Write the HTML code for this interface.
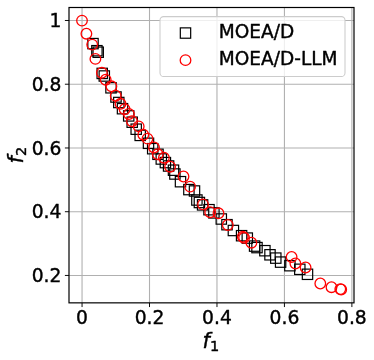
<!DOCTYPE html>
<html lang="en"><head><meta charset="utf-8"><title>MOEA/D vs MOEA/D-LLM</title>
<style>html,body{margin:0;padding:0;background:#fff;}svg{display:block;}text{font-family:"DejaVu Sans","Liberation Sans",sans-serif;fill:#000;stroke:#000;stroke-width:0.4px;stroke-linejoin:round;}.it{font-style:italic;}</style></head><body>
<svg width="374" height="360" viewBox="0 0 374 360">
<rect x="0" y="0" width="374" height="360" fill="#ffffff"/>
<g stroke="#b0b0b0" stroke-width="1.1" fill="none">
<line x1="82.05" y1="7.5" x2="82.05" y2="302.85"/>
<line x1="149.51" y1="7.5" x2="149.51" y2="302.85"/>
<line x1="216.97" y1="7.5" x2="216.97" y2="302.85"/>
<line x1="284.43" y1="7.5" x2="284.43" y2="302.85"/>
<line x1="351.89" y1="7.5" x2="351.89" y2="302.85"/>
<line x1="69.0" y1="275.45" x2="354.0" y2="275.45"/>
<line x1="69.0" y1="211.71" x2="354.0" y2="211.71"/>
<line x1="69.0" y1="147.97" x2="354.0" y2="147.97"/>
<line x1="69.0" y1="84.23" x2="354.0" y2="84.23"/>
<line x1="69.0" y1="20.49" x2="354.0" y2="20.49"/>
</g>
<g fill="none" stroke="#000000" stroke-width="1.2" stroke-linejoin="miter">
<rect x="87.83" y="38.43" width="10.35" height="10.35"/>
<rect x="91.73" y="45.53" width="10.35" height="10.35"/>
<rect x="93.03" y="47.03" width="10.35" height="10.35"/>
<rect x="97.03" y="68.23" width="10.35" height="10.35"/>
<rect x="99.12" y="70.83" width="10.35" height="10.35"/>
<rect x="105.83" y="82.62" width="10.35" height="10.35"/>
<rect x="110.83" y="91.83" width="10.35" height="10.35"/>
<rect x="113.62" y="97.33" width="10.35" height="10.35"/>
<rect x="117.33" y="103.53" width="10.35" height="10.35"/>
<rect x="123.52" y="110.73" width="10.35" height="10.35"/>
<rect x="127.02" y="117.03" width="10.35" height="10.35"/>
<rect x="131.02" y="124.02" width="10.35" height="10.35"/>
<rect x="135.02" y="130.22" width="10.35" height="10.35"/>
<rect x="143.32" y="138.12" width="10.35" height="10.35"/>
<rect x="147.52" y="143.52" width="10.35" height="10.35"/>
<rect x="152.82" y="149.12" width="10.35" height="10.35"/>
<rect x="156.12" y="153.82" width="10.35" height="10.35"/>
<rect x="160.22" y="157.42" width="10.35" height="10.35"/>
<rect x="163.42" y="160.82" width="10.35" height="10.35"/>
<rect x="168.32" y="165.02" width="10.35" height="10.35"/>
<rect x="169.72" y="168.82" width="10.35" height="10.35"/>
<rect x="175.32" y="176.52" width="10.35" height="10.35"/>
<rect x="183.72" y="184.42" width="10.35" height="10.35"/>
<rect x="189.32" y="185.82" width="10.35" height="10.35"/>
<rect x="191.72" y="194.82" width="10.35" height="10.35"/>
<rect x="194.22" y="197.32" width="10.35" height="10.35"/>
<rect x="197.42" y="199.72" width="10.35" height="10.35"/>
<rect x="203.82" y="204.52" width="10.35" height="10.35"/>
<rect x="208.72" y="207.72" width="10.35" height="10.35"/>
<rect x="216.12" y="213.82" width="10.35" height="10.35"/>
<rect x="221.82" y="219.52" width="10.35" height="10.35"/>
<rect x="228.22" y="225.32" width="10.35" height="10.35"/>
<rect x="236.42" y="230.52" width="10.35" height="10.35"/>
<rect x="242.12" y="232.92" width="10.35" height="10.35"/>
<rect x="249.42" y="240.92" width="10.35" height="10.35"/>
<rect x="251.82" y="242.42" width="10.35" height="10.35"/>
<rect x="259.72" y="245.52" width="10.35" height="10.35"/>
<rect x="264.82" y="249.62" width="10.35" height="10.35"/>
<rect x="270.62" y="252.93" width="10.35" height="10.35"/>
<rect x="275.43" y="256.93" width="10.35" height="10.35"/>
<rect x="284.72" y="260.52" width="10.35" height="10.35"/>
<rect x="294.62" y="264.12" width="10.35" height="10.35"/>
<rect x="302.32" y="269.12" width="10.35" height="10.35"/>
</g>
<g fill="none" stroke="#ff0000" stroke-width="1.3">
<circle cx="82.00" cy="20.60" r="5.30"/>
<circle cx="86.40" cy="33.70" r="5.30"/>
<circle cx="92.20" cy="44.60" r="5.30"/>
<circle cx="95.40" cy="58.90" r="5.30"/>
<circle cx="101.90" cy="72.80" r="5.30"/>
<circle cx="105.70" cy="79.70" r="5.30"/>
<circle cx="111.40" cy="86.30" r="5.30"/>
<circle cx="115.70" cy="95.70" r="5.30"/>
<circle cx="120.50" cy="103.80" r="5.30"/>
<circle cx="124.60" cy="109.20" r="5.30"/>
<circle cx="128.90" cy="114.00" r="5.30"/>
<circle cx="132.00" cy="121.20" r="5.30"/>
<circle cx="138.70" cy="126.40" r="5.30"/>
<circle cx="143.30" cy="134.70" r="5.30"/>
<circle cx="147.50" cy="138.60" r="5.30"/>
<circle cx="154.00" cy="147.50" r="5.30"/>
<circle cx="157.80" cy="154.20" r="5.30"/>
<circle cx="163.90" cy="157.70" r="5.30"/>
<circle cx="170.10" cy="166.70" r="5.30"/>
<circle cx="183.50" cy="176.50" r="5.30"/>
<circle cx="190.10" cy="186.60" r="5.30"/>
<circle cx="203.00" cy="204.40" r="5.30"/>
<circle cx="210.20" cy="212.20" r="5.30"/>
<circle cx="218.50" cy="213.30" r="5.30"/>
<circle cx="227.80" cy="225.00" r="5.30"/>
<circle cx="242.80" cy="236.80" r="5.30"/>
<circle cx="244.10" cy="237.80" r="5.30"/>
<circle cx="251.40" cy="242.70" r="5.30"/>
<circle cx="291.60" cy="257.00" r="5.30"/>
<circle cx="295.40" cy="263.50" r="5.30"/>
<circle cx="305.60" cy="267.50" r="5.30"/>
<circle cx="320.30" cy="283.50" r="5.30"/>
<circle cx="331.50" cy="287.20" r="5.30"/>
<circle cx="340.30" cy="289.10" r="5.30"/>
<circle cx="341.20" cy="289.50" r="5.30"/>
</g>
<g stroke="#000000" stroke-width="0.95" fill="none">
<line x1="82.05" y1="302.85" x2="82.05" y2="307.05"/>
<line x1="149.51" y1="302.85" x2="149.51" y2="307.05"/>
<line x1="216.97" y1="302.85" x2="216.97" y2="307.05"/>
<line x1="284.43" y1="302.85" x2="284.43" y2="307.05"/>
<line x1="351.89" y1="302.85" x2="351.89" y2="307.05"/>
<line x1="64.9" y1="275.45" x2="69.0" y2="275.45"/>
<line x1="64.9" y1="211.71" x2="69.0" y2="211.71"/>
<line x1="64.9" y1="147.97" x2="69.0" y2="147.97"/>
<line x1="64.9" y1="84.23" x2="69.0" y2="84.23"/>
<line x1="64.9" y1="20.49" x2="69.0" y2="20.49"/>
<rect x="69.0" y="7.5" width="285.0" height="295.35" stroke-linejoin="miter" stroke-width="1.2"/>
</g>
<g font-size="18.7">
<text x="82.05" y="323.6" text-anchor="middle">0</text>
<text x="149.51" y="323.6" text-anchor="middle">0.2</text>
<text x="216.97" y="323.6" text-anchor="middle">0.4</text>
<text x="284.43" y="323.6" text-anchor="middle">0.6</text>
<text x="351.89" y="323.6" text-anchor="middle">0.8</text>
<text x="61.4" y="282.20" text-anchor="end">0.2</text>
<text x="61.4" y="218.46" text-anchor="end">0.4</text>
<text x="61.4" y="154.72" text-anchor="end">0.6</text>
<text x="61.4" y="90.98" text-anchor="end">0.8</text>
<text x="61.4" y="27.24" text-anchor="end">1</text>
<text x="202.4" y="347.5" class="it" font-size="20.8">f<tspan font-size="14.56" dy="3.1" dx="0.3" font-style="normal">1</tspan></text>
<text transform="translate(23.0,163.6) rotate(-90)" class="it" font-size="20.8">f<tspan font-size="14.56" dy="3.1" dx="0.3" font-style="normal">2</tspan></text>
</g>
<rect x="160" y="16.6" width="185" height="59.9" rx="3.6" ry="3.6" fill="#ffffff" fill-opacity="0.8" stroke="#cccccc" stroke-width="1.05"/>
<rect x="180.32" y="27.87" width="10.35" height="10.35" fill="none" stroke="#000" stroke-width="1.2"/>
<circle cx="185.5" cy="60.15" r="5.3" fill="none" stroke="#ff0000" stroke-width="1.3"/>
<text x="218.8" y="37.6" font-size="18.55">MOEA/D</text>
<text x="218.8" y="65.1" font-size="18.55">MOEA/D-LLM</text>
</svg></body></html>
